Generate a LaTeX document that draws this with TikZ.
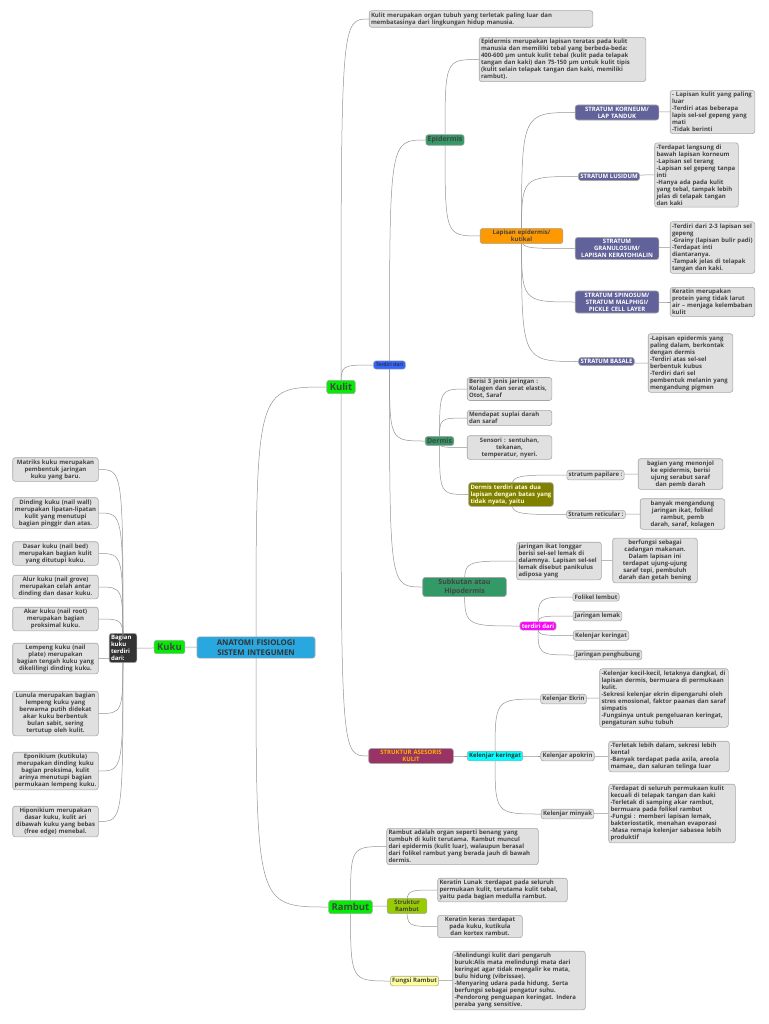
\documentclass[tikz,border=0pt]{standalone}
\usepackage{fontspec}
\setmainfont{Open Sans}
\usetikzlibrary{backgrounds}
\hyphenpenalty=10000
\exhyphenpenalty=10000
\definecolor{txt}{HTML}{444444}
\definecolor{bgray}{HTML}{E0E0E0}
\definecolor{grn}{HTML}{00EE00}
\definecolor{sea}{HTML}{339966}
\definecolor{purp}{HTML}{62629A}
\definecolor{orng}{HTML}{FF9900}
\definecolor{blu}{HTML}{3366FF}
\definecolor{olv}{HTML}{808000}
\definecolor{mag}{HTML}{FF00FF}
\definecolor{maro}{HTML}{993366}
\definecolor{cyn}{HTML}{00FFFF}
\definecolor{lime}{HTML}{99CC00}
\definecolor{ylw}{HTML}{FFFF99}
\definecolor{cent}{HTML}{29A8E0}
\definecolor{dark}{HTML}{333333}
\tikzset{
 box/.style={draw=gray!70, rounded corners=2.5pt, font=\fontsize{6}{7}\selectfont\bfseries, text=txt, inner sep=1.8pt, line width=0.6pt},
 desc/.style={box, fill=bgray, align=left},
 descc/.style={box, fill=bgray, align=center},
 strat/.style={box, fill=purp, text=white, align=center},
 gbig/.style={box, fill=grn, font=\fontsize{9.5}{11}\selectfont\bfseries, inner sep=3pt},
 gsea/.style={box, fill=sea, font=\fontsize{7}{8.5}\selectfont\bfseries},
 conn/.style={draw=gray!85, line width=0.5pt},
}
\newcommand\cn[3]{\draw[conn] (#1.center) .. controls (#1.center |- #2.#3) .. (#2.#3);}
\begin{document}
\begin{tikzpicture}[x=1pt,y=-1pt]
\useasboundingbox (0,0) rectangle (768,1024);
% central
\node[box, fill=cent, text=dark, font=\fontsize{7.8}{9.5}\selectfont\bfseries, text width=112, align=center, inner sep=3pt] (cen) at (256,647.5) {ANATOMI FISIOLOGI\\SISTEM INTEGUMEN};
\node[gbig] (kulit) at (341,387) {Kulit};
\node[gbig] (ram) at (350.5,907) {Rambut};
\node[gbig] (kuku) at (169.5,647) {Kuku};
% Kulit
\node[desc, text width=220] (kdef) at (481,19) {Kulit merupakan organ tubuh yang terletak paling luar dan membatasinya dari lingkungan hidup manusia.};
\node[box, fill=blu, text=dark, font=\fontsize{5}{6}\selectfont\bfseries, inner sep=2.2pt] (ter) at (389.5,365) {Terdiri dari};
\node[gsea] (epi) at (445,140) {Epidermis};
\node[desc, text width=163] (epdef) at (562.5,59.5) {Epidermis merupakan lapisan teratas pada kulit manusia dan memiliki tebal yang berbeda-beda: 400-600 µm untuk kulit tebal (kulit pada telapak tangan dan kaki) dan 75-150 µm untuk kulit tipis (kulit selain telapak tangan dan kaki, memiliki rambut).};
\node[box, fill=orng, text width=79, align=center] (lap) at (521.5,236) {Lapisan epidermis/\\kutikal};
\node[strat, text width=80] (kor) at (617,112.5) {STRATUM KORNEUM/\\LAP TANDUK};
\node[desc, text width=81] (kord) at (712.5,112) {- Lapisan kulit yang paling luar\\-Terdiri atas beberapa lapis sel-sel gepeng yang mati\\-Tidak berinti};
\node[strat] (lus) at (609,176.5) {STRATUM LUSIDUM};
\node[desc, text width=80] (lusd) at (696.5,175) {-Terdapat langsung di bawah lapisan korneum\\-Lapisan sel terang\\-Lapisan sel gepeng tanpa inti\\-Hanya ada pada kulit yang tebal, tampak lebih jelas di telapak tangan dan kaki};
\node[strat, text width=80] (gra) at (617,248.5) {STRATUM\\GRANULOSUM/\\LAPISAN KERATOHIALIN};
\node[desc, text width=81] (grad) at (712.5,247.5) {-Terdiri dari 2-3 lapisan sel gepeng\\-Grainy (lapisan bulir padi)\\-Terdapat inti diantaranya.\\-Tampak jelas di telapak tangan dan kaki.};
\node[strat, text width=80] (spi) at (617,302) {STRATUM SPINOSUM/\\STRATUM MALPHIGI/\\PICKLE CELL LAYER};
\node[desc, text width=81] (spid) at (712.5,302) {Keratin merupakan protein yang tidak larut air -- menjaga kelembaban kulit};
\node[strat] (bas) at (606.5,361.5) {STRATUM BASALE};
\node[desc, text width=81] (basd) at (690.5,363) {-Lapisan epidermis yang paling dalam, berkontak dengan dermis\\-Terdiri atas sel-sel berbentuk kubus\\-Terdiri dari sel pembentuk melanin yang mengandung pigmen};
\node[gsea] (der) at (439.5,441) {Dermis};
\node[desc, text width=81] (b3) at (509.5,389) {Berisi 3 jenis jaringan : Kolagen dan serat elastis, Otot, Saraf};
\node[desc, text width=81] (mend) at (509.5,418) {Mendapat suplai darah dan saraf};
\node[descc, text width=81] (sens) at (509.5,447.5) {Sensori : sentuhan, tekanan, temperatur, nyeri.};
\node[box, fill=olv, text=yellow!15, align=left, text width=81] (dta) at (511,494.5) {Dermis terdiri atas dua lapisan dengan batas yang tidak nyata, yaitu};
\node[descc] (pap) at (595.5,475) {stratum papilare :};
\node[descc, text width=81] (papd) at (680.5,474) {bagian yang menonjol ke epidermis, berisi ujung serabut saraf dan pemb darah};
\node[descc] (ret) at (596,514.5) {Stratum reticular :};
\node[descc, text width=81] (retd) at (682.5,514) {banyak mengandung jaringan ikat, folikel rambut, pemb darah, saraf, kolagen};
\node[gsea, text width=80, align=center] (sub) at (464.5,587) {Subkutan atau\\Hipodermis};
\node[desc, text width=81] (jar) at (559,561) {jaringan ikat longgar berisi sel-sel lemak di dalamnya. Lapisan sel-sel lemak disebut panikulus adiposa yang};
\node[descc, text width=81] (berf) at (655,560.5) {berfungsi sebagai cadangan makanan. Dalam lapisan ini terdapat ujung-ujung saraf tepi, pembuluh darah dan getah bening};
\node[box, fill=mag, text=white] (tdd) at (538,626) {terdiri dari};
\node[descc] (fol) at (596,597) {Folikel lembut};
\node[descc] (jl) at (597.5,616) {Jaringan lemak};
\node[descc] (kk) at (601,635.5) {Kelenjar keringat};
\node[descc] (jp) at (608,655) {Jaringan penghubung};
\node[box, fill=maro, text=orange!60!yellow, text width=81, align=center] (sak) at (411,756) {STRUKTUR ASESORIS\\KULIT};
\node[box, fill=cyn, text=dark] (kkc) at (495,756) {Kelenjar keringat};
\node[descc] (ekr) at (563.5,699) {Kelenjar Ekrin};
\node[desc, text width=125] (ekrd) at (664,698) {-Kelenjar kecil-kecil, letaknya dangkal, di lapisan dermis, bermuara di permukaan kulit.\\-Sekresi kelenjar ekrin dipengaruhi oleh stres emosional, faktor paanas dan saraf simpatis\\-Fungsinya untuk pengeluaran keringat, pengaturan suhu tubuh};
\node[descc] (apo) at (567.5,756) {Kelenjar apokrin};
\node[desc, text width=117] (apod) at (669,756.5) {-Terletak lebih dalam, sekresi lebih kental\\-Banyak terdapat pada axila, areola mamae,, dan saluran telinga luar};
\node[descc] (miny) at (567.5,814) {Kelenjar minyak};
\node[desc, text width=123] (minyd) at (672,813.5) {-Terdapat di seluruh permukaan kulit kecuali di telapak tangan dan kaki\\-Terletak di samping akar rambut, bermuara pada folikel rambut\\-Fungsi : memberi lapisan lemak, bakteriostatik, menahan evaporasi\\-Masa remaja kelenjar sabasea lebih produktif};
% Rambut
\node[desc, text width=148] (ramd) at (462.5,846.5) {Rambut adalah organ seperti benang yang tumbuh di kulit terutama. Rambut muncul dari epidermis (kulit luar), walaupun berasal dari folikel rambut yang berada jauh di bawah dermis.};
\node[box, fill=lime, text width=36, align=center] (sr) at (407,906) {Struktur\\Rambut};
\node[desc, text width=126] (kl) at (502.5,890) {Keratin Lunak :terdapat pada seluruh permukaan kulit, terutama kulit tebal, yaitu pada bagian medulla rambut.};
\node[descc, text width=81] (kr) at (480,926.5) {Keratin keras :terdapat pada kuku, kutikula dan kortex rambut.};
\node[box, fill=ylw] (fr) at (414.5,981) {Fungsi Rambut};
\node[desc, text width=129] (frd) at (519,980.5) {-Melindungi kulit dari pengaruh buruk:Alis mata melindungi mata dari keringat agar tidak mengalir ke mata, bulu hidung (vibrissae).\\-Menyaring udara pada hidung. Serta berfungsi sebagai pengatur suhu.\\-Pendorong penguapan keringat. Indera peraba yang sensitive.};
% Kuku
\node[box, fill=dark, text=white, text width=24, align=left] (bag) at (123,648) {Bagian kuku terdiri dari:};
\node[descc, text width=82] (k1) at (55.5,469.5) {Matriks kuku merupakan pembentuk jaringan kuku yang baru.};
\node[descc, text width=82] (k2) at (55.5,513) {Dinding kuku (nail wall) merupakan lipatan-lipatan kulit yang menutupi bagian pinggir dan atas.};
\node[descc, text width=82] (k3) at (55.5,553.5) {Dasar kuku (nail bed) merupakan bagian kulit yang ditutupi kuku.};
\node[descc, text width=82] (k4) at (55.5,587) {Alur kuku (nail grove) merupakan celah antar dinding dan dasar kuku.};
\node[descc, text width=82] (k5) at (55.5,619) {Akar kuku (nail root) merupakan bagian proksimal kuku.};
\node[descc, text width=82] (k6) at (55.5,658.5) {Lempeng kuku (nail plate) merupakan bagian tengah kuku yang dikelilingi dinding kuku.};
\node[descc, text width=82] (k7) at (55.5,713.5) {Lunula merupakan bagian lempeng kuku yang berwarna putih didekat akar kuku berbentuk bulan sabit, sering tertutup oleh kulit.};
\node[descc, text width=82] (k8) at (55.5,771) {Eponikium (kutikula) merupakan dinding kuku bagian proksima, kulit arinya menutupi bagian permukaan lempeng kuku.};
\node[descc, text width=82] (k9) at (55.5,821.5) {Hiponikium merupakan dasar kuku, kulit ari dibawah kuku yang bebas (free edge) menebal.};
\begin{scope}[on background layer]
\cn{cen}{kulit}{west}\cn{cen}{ram}{west}\cn{cen}{kuku}{east}
\cn{kulit}{kdef}{west}\cn{kulit}{ter}{west}\cn{kulit}{sak}{west}
\cn{ter}{epi}{west}\cn{ter}{der}{west}\cn{ter}{sub}{west}
\cn{epi}{epdef}{west}\cn{epi}{lap}{west}
\cn{lap}{kor}{west}\cn{lap}{lus}{west}\cn{lap}{gra}{west}\cn{lap}{spi}{west}\cn{lap}{bas}{west}
\cn{kor}{kord}{west}\cn{lus}{lusd}{west}\cn{gra}{grad}{west}\cn{spi}{spid}{west}\cn{bas}{basd}{west}
\cn{der}{b3}{west}\cn{der}{mend}{west}\cn{der}{sens}{west}\cn{der}{dta}{west}
\cn{dta}{pap}{west}\cn{dta}{ret}{west}\cn{pap}{papd}{west}\cn{ret}{retd}{west}
\cn{sub}{jar}{west}\cn{sub}{tdd}{west}\cn{jar}{berf}{west}
\cn{tdd}{fol}{west}\cn{tdd}{jl}{west}\cn{tdd}{kk}{west}\cn{tdd}{jp}{west}
\cn{sak}{kkc}{west}\cn{kkc}{ekr}{west}\cn{kkc}{apo}{west}\cn{kkc}{miny}{west}
\cn{ekr}{ekrd}{west}\cn{apo}{apod}{west}\cn{miny}{minyd}{west}
\cn{ram}{ramd}{west}\cn{ram}{sr}{west}\cn{ram}{fr}{west}
\cn{sr}{kl}{west}\cn{sr}{kr}{west}\cn{fr}{frd}{west}
\cn{kuku}{bag}{east}
\cn{bag}{k1}{east}\cn{bag}{k2}{east}\cn{bag}{k3}{east}\cn{bag}{k4}{east}\cn{bag}{k5}{east}\cn{bag}{k6}{east}\cn{bag}{k7}{east}\cn{bag}{k8}{east}\cn{bag}{k9}{east}
\end{scope}
\end{tikzpicture}
\end{document}
